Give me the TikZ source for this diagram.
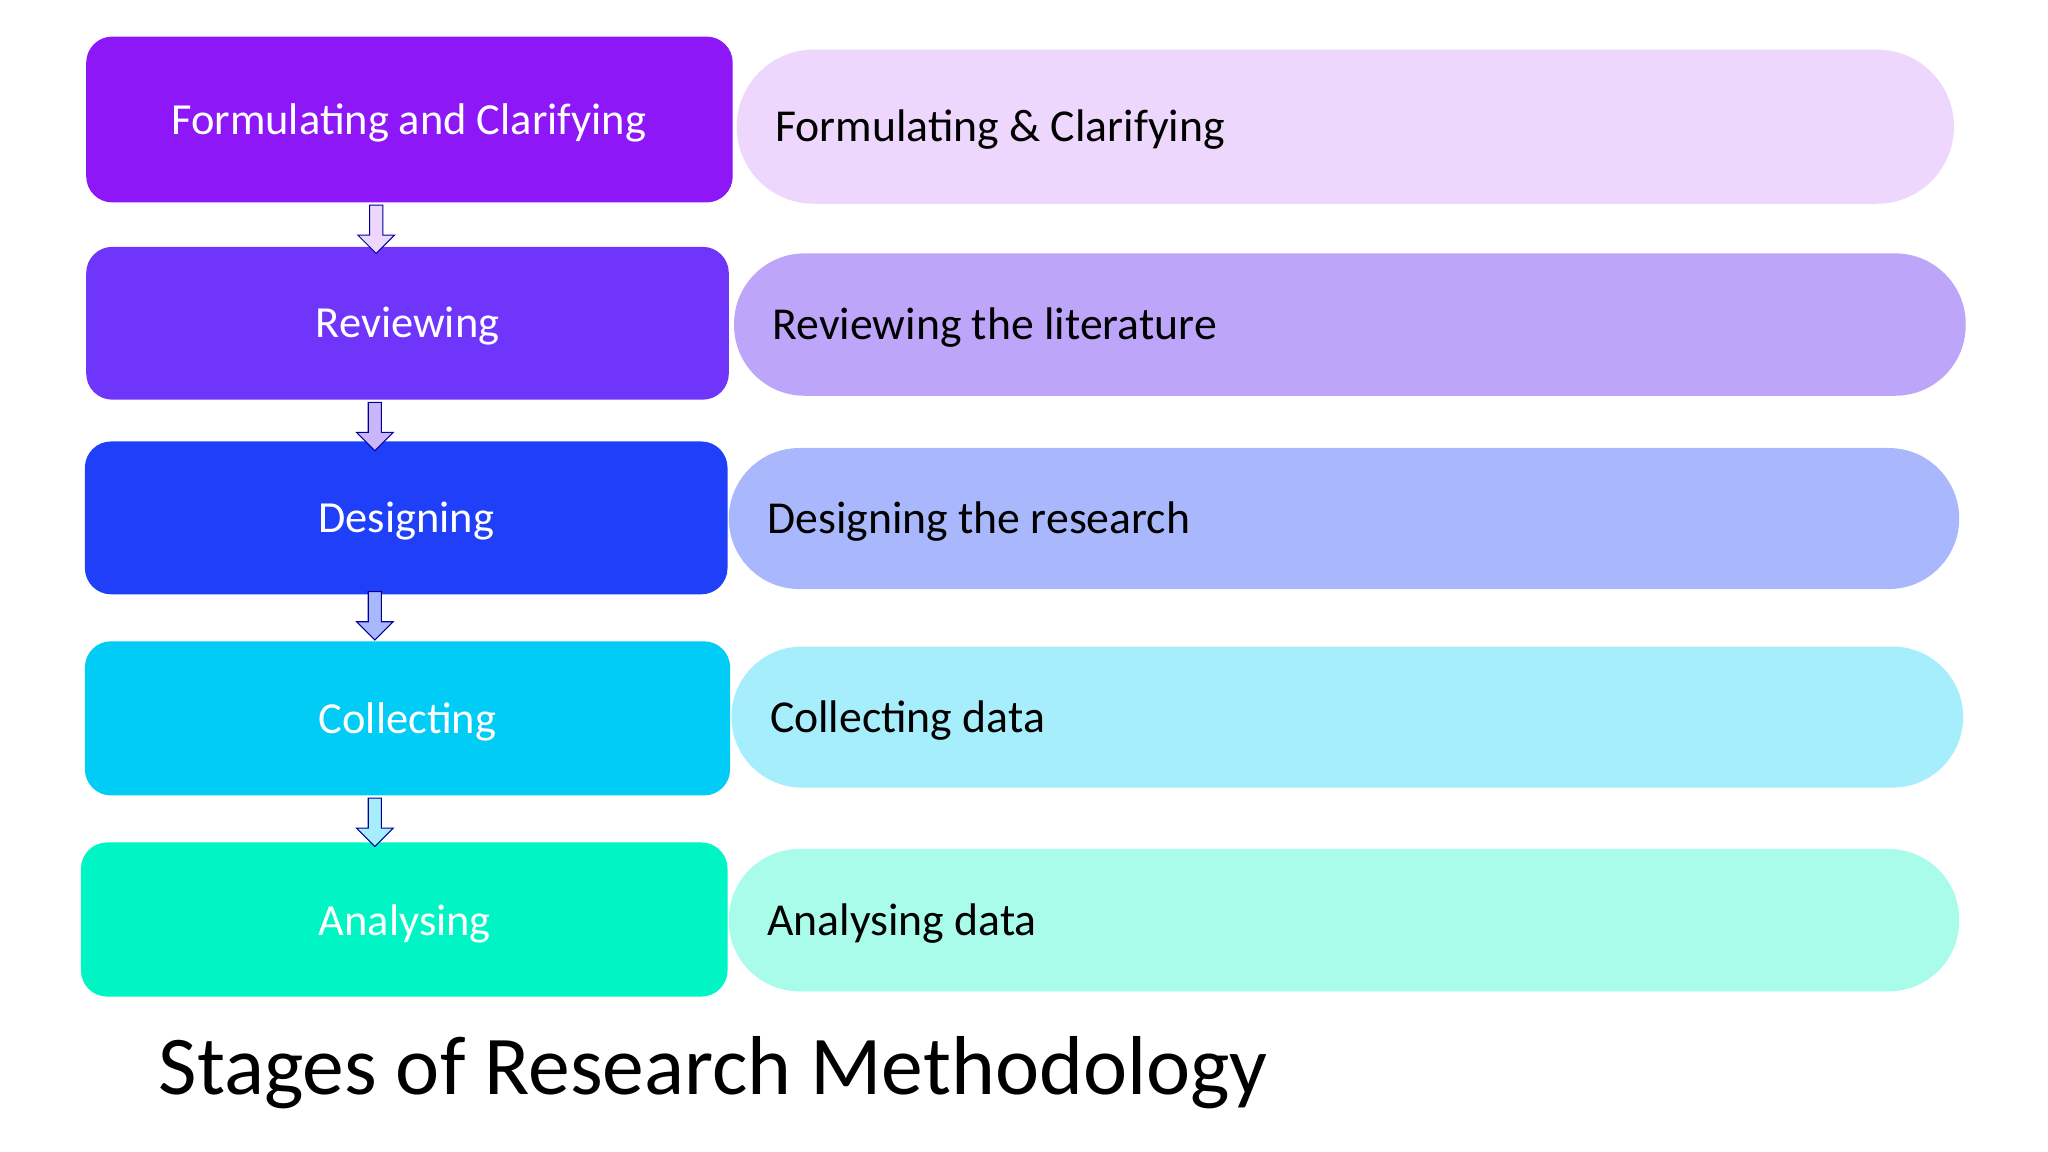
\documentclass[tikz,border=0pt]{standalone}
\usepackage{fontspec}
\setmainfont{Carlito}
\usetikzlibrary{shapes.arrows}
\begin{document}
\begin{tikzpicture}[x=1pt,y=-1pt,
  lbox/.style={rounded corners=20pt,draw=none},
  ltext/.style={text=white,font=\fontsize{34}{40}\selectfont},
  rtext/.style={text=black,anchor=west,font=\fontsize{35}{42}\selectfont},
  darr/.style={single arrow,draw=blue!60!black,fill=#1,shape border rotate=270,minimum height=37pt,minimum width=28pt,single arrow head extend=6pt,inner sep=3pt,line width=0.8pt}]
\useasboundingbox (0,0) rectangle (1568,882);
\definecolor{c1}{HTML}{8E17F8}\definecolor{c2}{HTML}{6F35FB}\definecolor{c3}{HTML}{1F40F8}
\definecolor{c4}{HTML}{00CCF5}\definecolor{c5}{HTML}{00F5C4}
\definecolor{p1}{HTML}{EDD7FC}\definecolor{p2}{HTML}{BDA5FA}\definecolor{p3}{HTML}{A9B8FC}
\definecolor{p4}{HTML}{A6EEFB}\definecolor{p5}{HTML}{A8FCE9}
% pills
\fill[p1,rounded corners=59pt] (564,38) rectangle (1496,156);
\fill[p2,rounded corners=54pt] (562,194) rectangle (1505,303);
\fill[p3,rounded corners=54pt] (558,343) rectangle (1500,451);
\fill[p4,rounded corners=54pt] (560,495) rectangle (1503,603);
\fill[p5,rounded corners=54pt] (558,650) rectangle (1500,759);
\node[rtext] (r1) at (590,99) {Formulating \& Clarifying};
\node[rtext] (r2) at (588,251) {Reviewing the literature};
\node[rtext] (r3) at (584,399) {Designing the research};
\node[rtext] (r4) at (586,552) {Collecting data};
\node[rtext] (r5) at (584,707) {Analysing data};
% left boxes
\fill[c1,lbox] (66,28) rectangle (561,155);
\fill[c2,lbox] (66,189) rectangle (558,306);
\fill[c3,lbox] (65,338) rectangle (557,455);
\fill[c4,lbox] (65,491) rectangle (559,609);
\fill[c5,lbox] (62,645) rectangle (557,763);
\node[ltext] (l1) at (313,94) {Formulating and Clarifying};
\node[ltext] (l2) at (312,250) {Reviewing};
\node[ltext] (l3) at (311,399) {Designing};
\node[ltext] (l4) at (312,553) {Collecting};
\node[ltext] (l5) at (310,707) {Analysing};
% arrows
\node[darr=p1] (a1) at (288,173) {};
\node[darr=p2!80!white] (a2) at (287,324) {};
\node[darr=p3] (a3) at (287,469) {};
\node[darr=p4] (a4) at (287,627) {};
\node[anchor=base west,font=\fontsize{64}{70}\selectfont] (t) at (118,838) {Stages of Research Methodology};
\end{tikzpicture}
\end{document}
